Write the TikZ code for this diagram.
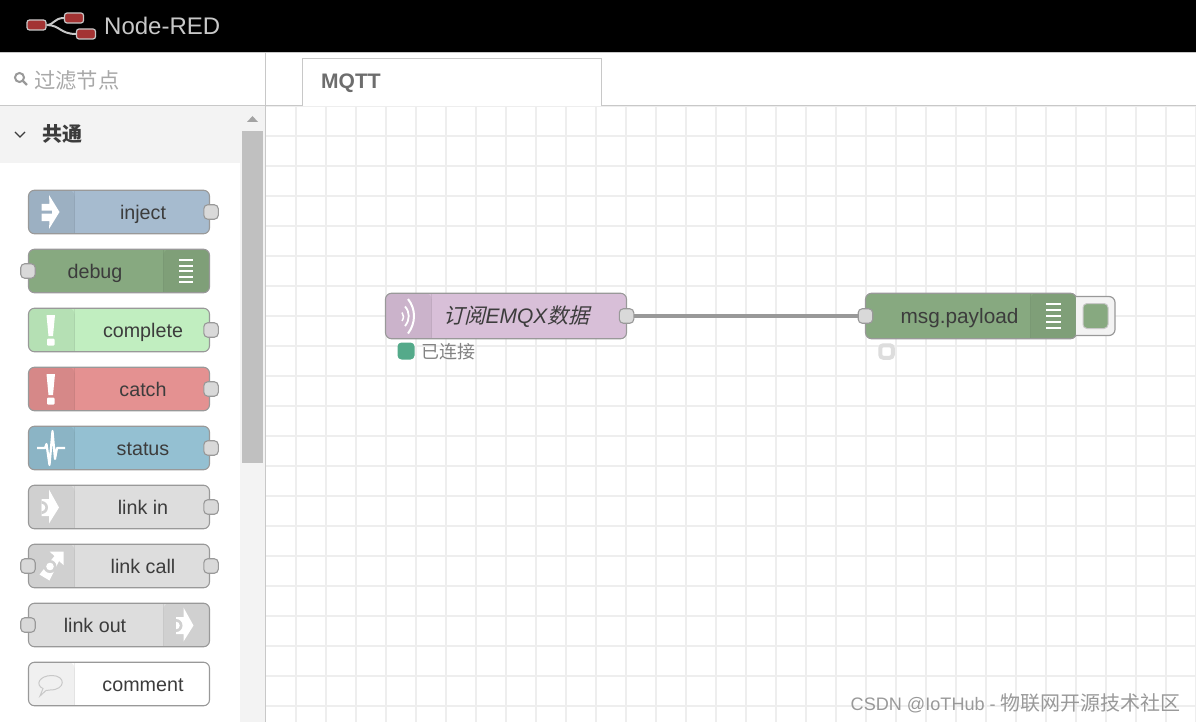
\documentclass[tikz,border=0pt]{standalone}
\usepackage{fontspec}
\setmainfont{Liberation Sans}
\newfontfamily\cjkfont{Noto Sans CJK SC}
\newfontfamily\cjkslant[FakeSlant=0.25]{Noto Sans CJK SC}
\usepackage{xcolor}
\definecolor{rulegray}{RGB}{200,200,200}
\definecolor{gridgray}{RGB}{238,238,238}
\definecolor{panelgray}{RGB}{243,243,243}
\definecolor{thumbgray}{RGB}{192,192,192}
\definecolor{edgegray}{RGB}{153,153,153}
\definecolor{portgray}{RGB}{217,217,217}
\definecolor{labelgray}{RGB}{60,60,60}
\definecolor{injectblue}{RGB}{166,187,207}
\definecolor{debuggreen}{RGB}{135,169,128}
\definecolor{completegreen}{RGB}{193,238,192}
\definecolor{catchred}{RGB}{228,145,145}
\definecolor{statusblue}{RGB}{148,192,210}
\definecolor{linkgray}{RGB}{221,221,221}
\definecolor{linktab}{RGB}{208,208,208}
\definecolor{mqttpurple}{RGB}{216,191,216}
\definecolor{statusgreen}{RGB}{84,170,138}
\definecolor{logored}{RGB}{163,51,51}
\usetikzlibrary{positioning}
\tikzset{
  flownode/.style={draw=edgegray,line width=1.1pt,rounded corners=6pt,inner sep=0pt,minimum height=43.5pt},
  palnode/.style={flownode,fill=#1,minimum width=181pt},
  tableft/.style={path picture={\fill[black,opacity=.06] (path picture bounding box.north west) rectangle ++(46pt,-50pt);
    \draw[black,opacity=.07,line width=1pt] ([xshift=46pt]path picture bounding box.north west) -- ++(0,-50pt);}},
  tabright/.style={path picture={\fill[black,opacity=.06] (path picture bounding box.north east) rectangle ++(-46pt,-50pt);
    \draw[black,opacity=.07,line width=1pt] ([xshift=-46pt]path picture bounding box.north east) -- ++(0,-50pt);}},
  portbox/.style={draw=edgegray,fill=portgray,line width=1.1pt,rounded corners=4pt,inner sep=0pt,minimum size=14.5pt},
  pallabel/.style={anchor=base,text=labelgray,font=\fontsize{19.7}{20}\selectfont,inner sep=0pt},
  logonode/.style={draw=rulegray,fill=logored,line width=1.2pt,rounded corners=2.5pt,inner sep=0pt,minimum width=19pt,minimum height=10pt},
}
\newcommand{\linkicon}[2]{%
  \begin{scope}[shift={(#1,#2)}]
    \fill[white] (0,-8.5) -- (7.5,-8.5) -- (7.5,-18) -- (17.5,0) -- (7.5,16) -- (7.5,8.5) -- (0,8.5) -- cycle;
    \begin{scope}
      \clip (0,-12) rectangle (12,12);
      \fill[linktab] (0,0) circle (6.5pt);
      \fill[white] (0,0) circle (3.8pt);
    \end{scope}
  \end{scope}}
\begin{document}
\begin{tikzpicture}[x=1pt,y=-1pt]
\useasboundingbox (0,0) rectangle (1196,722);
\fill[white] (0,0) rectangle (1196,722);
% grid
\foreach \gx in {296,326,...,1196} {\draw[gridgray,line width=1.7pt] (\gx,106) -- (\gx,722);}
\foreach \gy in {106,136,...,706} {\draw[gridgray,line width=1.7pt] (266,\gy) -- (1196,\gy);}
% header
\fill[black] (0,0) rectangle (1196,52);
\draw[rulegray,line width=1.2pt] (0,52.5) -- (1196,52.5);
\node[logonode] (logoa) at (36.5,25) {};
\node[logonode] (logob) at (74,18) {};
\node[logonode] (logoc) at (86,34) {};
\draw[rulegray,line width=2pt] (logoa.east) .. controls (54,25) and (54,18) .. (logob.west);
\draw[rulegray,line width=2pt] (logoa.east) .. controls (60,25) and (60,34) .. (logoc.west);
\node[anchor=base west,text=rulegray,font=\fontsize{24}{24}\selectfont,inner sep=0pt] (title) at (104,34.3) {Node-RED};
% sidebar
\fill[panelgray] (0,106) rectangle (240,163);
\fill[panelgray] (240,106) rectangle (265,722);
\fill[thumbgray] (242,131) rectangle (263,463);
\fill[edgegray!90] (247,122) -- (252.5,116) -- (258,122) -- cycle;
\draw[rulegray,line width=1.2pt] (0,105.5) -- (266,105.5);
\draw[rulegray,line width=1.2pt] (265.5,52) -- (265.5,722);
\draw[edgegray,line width=2pt] (19.5,77.5) circle (4.5pt);
\draw[edgegray,line width=2.4pt] (23,81) -- (27,85);
\node[anchor=west,text=edgegray!85!white,font=\cjkfont\fontsize{21.3}{21}\selectfont,inner sep=0pt] (filter) at (34,80) {过滤节点};
\draw[labelgray,line width=1.2pt] (15,132) -- (20,137) -- (25,132);
\node[anchor=west,text=labelgray,font=\cjkfont\bfseries\fontsize{20}{20}\selectfont,inner sep=0pt] (group) at (42,134) {共通};
% tab
\filldraw[fill=white,draw=rulegray,line width=1.2pt] (266,105.5) -- (302.5,105.5) -- (302.5,58.5) -- (601.5,58.5) -- (601.5,105.5) -- (1196,105.5);
\fill[white] (303,105) rectangle (601,106);
\node[anchor=base west,text=labelgray!75!white,font=\bfseries\fontsize{21}{21}\selectfont,inner sep=0pt] (tabname) at (321,88.3) {MQTT};
% palette
\node[palnode=injectblue,tableft] (inject) at (119,212) {};
\node[palnode=debuggreen,tabright] (debug) at (119,271) {};
\node[palnode=completegreen,tableft] (complete) at (119,330) {};
\node[palnode=catchred,tableft] (catch) at (119,389) {};
\node[palnode=statusblue,tableft] (status) at (119,448) {};
\node[palnode=linkgray,tableft] (linkin) at (119,507) {};
\node[palnode=linkgray,tableft] (linkcall) at (119,566) {};
\node[palnode=linkgray,tabright] (linkout) at (119,625) {};
\node[palnode=white,tableft] (comment) at (119,684) {};
\node[pallabel] at (143,219.5) {inject};
\node[pallabel] at (95,278.5) {debug};
\node[pallabel] at (143,337.5) {complete};
\node[pallabel] at (143,396.5) {catch};
\node[pallabel] at (143,455.5) {status};
\node[pallabel] at (143,514.5) {link in};
\node[pallabel] at (143,573.5) {link call};
\node[pallabel] at (95,632.5) {link out};
\node[pallabel] at (143,691.5) {comment};
% palette ports
\foreach \pname in {inject,complete,catch,status,linkin,linkcall} {\node[portbox] at ([xshift=1pt]\pname.east) {};}
\foreach \pname in {debug,linkcall,linkout} {\node[portbox] at (\pname.west) {};}
% palette icons
\fill[white] (41.5,204) -- (49.5,204) -- (49,195) -- (59.5,212) -- (49,229) -- (49.5,221) -- (41.5,221) -- (41.5,213.5) -- (52,213.5) -- (52,210.5) -- (41.5,210.5) -- cycle;
\foreach \ly in {260,265.5,271,276.5,282} {\draw[white,line width=2pt] (179,\ly) -- (193,\ly);}
\foreach \ey in {330,389} {
  \fill[white] (46.5,\ey-15) -- (55,\ey-15) -- (53,\ey+6) -- (48.5,\ey+6) -- cycle;
  \fill[white,rounded corners=1pt] (47,\ey+8.5) rectangle (54.5,\ey+15.5);
}
\draw[white,line width=2.2pt,line join=round] (37,448) -- (45,448) -- (46.5,444) -- (49.5,465) -- (52.5,431) -- (55,459) -- (57,448) -- (65,448);
\linkicon{41.5}{507.5}
\linkicon{176}{625.5}
\fill[white] (63.5,551.5) -- (63.5,565) -- (59,561) -- (49.5,580.5) -- (39.5,574.5) -- (54.5,556) -- (49.5,551.5) -- cycle;
\fill[linktab] (50,566.5) circle (6.5pt);
\fill[white] (50,566.5) circle (3.8pt);
% comment icon
\draw[rulegray,line width=1pt] (52,675.5) .. controls (66,675.5) and (66,690) .. (50,690) -- (46,690.5) -- (40,696) -- (43,688.5) .. controls (35,685) and (39,675.5) .. (52,675.5) -- cycle;
% flow nodes
\node[flownode,fill=mqttpurple,tableft,minimum width=241pt,minimum height=45.5pt] (mqttin) at (506,316) {};
\node[anchor=base,text=labelgray,font=\fontsize{21}{21}\selectfont\itshape,inner sep=0pt] (mqttlabel) at (516.5,323) {{\cjkslant 订阅}EMQX{\cjkslant 数据}};
\draw[white,line width=1.5pt] (402,312.5) .. controls (404,315) and (404,318) .. (402,321);
\draw[white,line width=1.8pt] (405,306.5) .. controls (410,312) and (410,320) .. (405,326);
\draw[white,line width=2pt] (408,299) .. controls (416,309) and (416,323) .. (408,333.5);
\node[flownode,fill=debuggreen,minimum width=211pt,minimum height=45.5pt,tabright] (dbg) at (971,316) {};
\node[pallabel,font=\fontsize{20.8}{21}\selectfont] (dbglabel) at (959.5,323) {msg.payload};
\foreach \ly in {304,310,316,322,328} {\draw[white,line width=2pt] (1046,\ly) -- (1061,\ly);}
\draw[edgegray,line width=1.2pt,fill=panelgray,rounded corners=6pt] (1076,296.5) -- (1115,296.5) -- (1115,335.5) -- (1076,335.5);
\node[draw=rulegray,fill=debuggreen,line width=1pt,rounded corners=4pt,inner sep=0pt,minimum size=25pt] (dbgbtn) at (1095.5,316) {};
\node[portbox] (mqttport) at ([xshift=-0.5pt]mqttin.east) {};
\node[portbox] (dbgport) at ([xshift=0.5pt]dbg.west) {};
\draw[edgegray,line width=4pt] (mqttport) -- (dbgport);
% status
\node[fill=statusgreen,rounded corners=4pt,inner sep=0pt,minimum size=17pt] (mqttdot) at (406,351) {};
\node[anchor=west,text=edgegray!85!black,font=\cjkfont\fontsize{18}{18}\selectfont,inner sep=0pt] (mqttstatus) at (421,352) {已连接};
\node[draw=linkgray,line width=4pt,rounded corners=3pt,inner sep=0pt,minimum size=12.5pt,fill=white] (dbgdot) at (886.5,351.5) {};
% watermark
\node[anchor=east,text=edgegray,font=\fontsize{18.1}{20}\selectfont,inner sep=0pt] (mark) at (1181,703) {CSDN @IoTHub - {\cjkfont\fontsize{20}{20}\selectfont 物联网开源技术社区}};
\end{tikzpicture}
\end{document}
